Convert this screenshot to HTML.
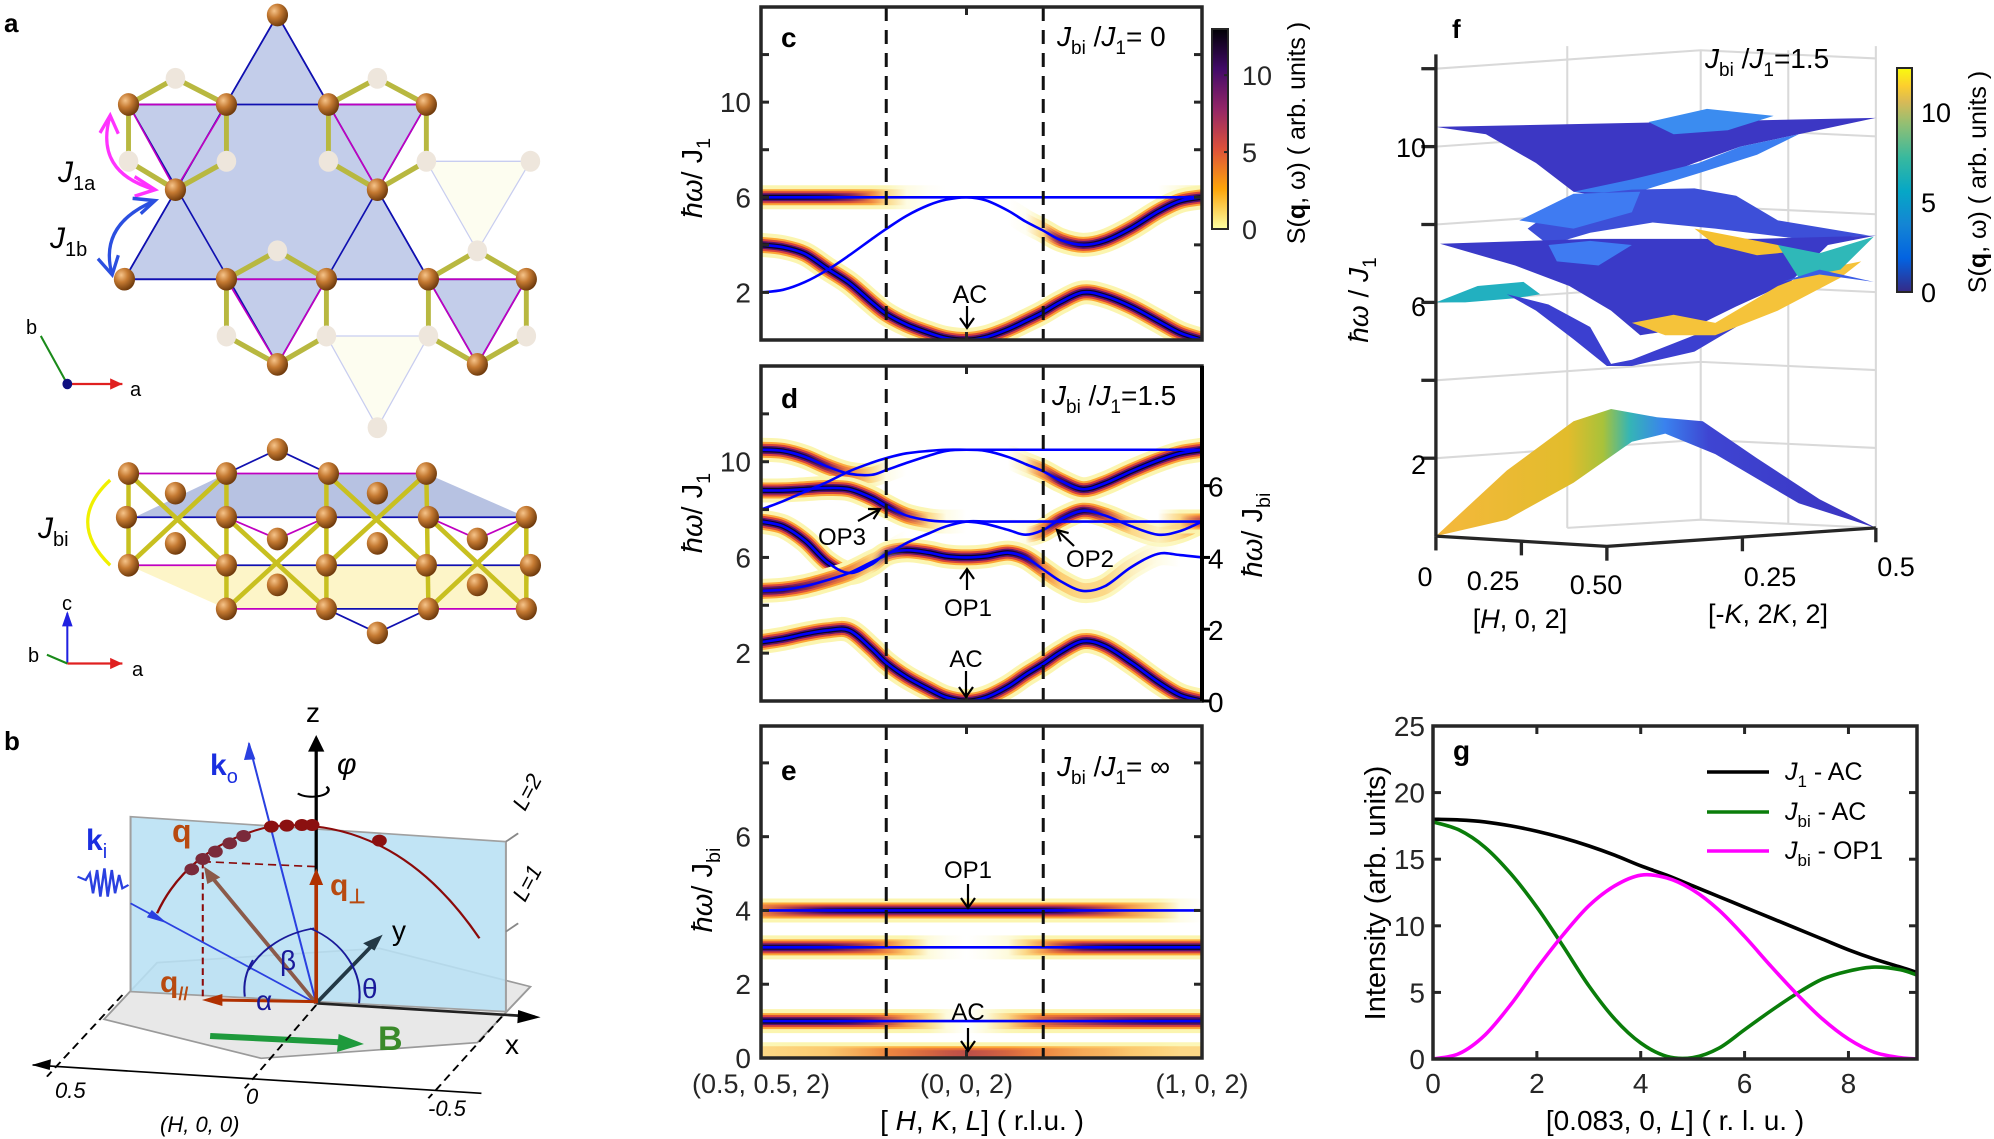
<!DOCTYPE html>
<html><head><meta charset="utf-8">
<style>
html,body{margin:0;padding:0;background:#fff;}
svg{display:block;font-family:"Liberation Sans",Arial,sans-serif;}
</style></head>
<body>
<svg id="fig" width="1994" height="1139" viewBox="0 0 1994 1139" xmlns="http://www.w3.org/2000/svg">
<defs>
  <radialGradient id="sph" cx="0.35" cy="0.32" r="0.7">
    <stop offset="0" stop-color="#f6c48a"/><stop offset="0.45" stop-color="#c57a32"/><stop offset="1" stop-color="#6e3a0c"/>
  </radialGradient>
  <linearGradient id="infernoBar" x1="0" y1="1" x2="0" y2="0">
    <stop offset="0" stop-color="#fcffa4"/><stop offset="0.2" stop-color="#fca50a"/><stop offset="0.4" stop-color="#dd513a"/>
    <stop offset="0.6" stop-color="#932667"/><stop offset="0.8" stop-color="#420a68"/><stop offset="1" stop-color="#000004"/>
  </linearGradient>
  <linearGradient id="parulaBar" x1="0" y1="1" x2="0" y2="0">
    <stop offset="0" stop-color="#352a87"/><stop offset="0.15" stop-color="#0363e1"/><stop offset="0.3" stop-color="#1485d4"/>
    <stop offset="0.45" stop-color="#06a7c6"/><stop offset="0.6" stop-color="#38b99e"/><stop offset="0.75" stop-color="#92bf73"/>
    <stop offset="0.85" stop-color="#d9ba56"/><stop offset="0.92" stop-color="#fcce2e"/><stop offset="1" stop-color="#f9fb0e"/>
  </linearGradient>
  <linearGradient id="acSurf" gradientUnits="userSpaceOnUse" x1="230" y1="0" x2="1285" y2="0">
    <stop offset="0" stop-color="#f5b83c"/><stop offset="0.3" stop-color="#e2bc2c"/><stop offset="0.38" stop-color="#a8c23a"/>
    <stop offset="0.44" stop-color="#35b5b5"/><stop offset="0.52" stop-color="#3a82ee"/><stop offset="0.62" stop-color="#3e45d2"/><stop offset="1" stop-color="#3b33c0"/>
  </linearGradient>
</defs>

<!-- ================= PANEL A ================= -->
<g>
<g transform="translate(0,-2.47) scale(0.408,0.4367)">
  <polygon points="1045,375 1300,375 1170,580" fill="#fdfdf0" stroke="#c8cdf0" stroke-width="3"/>
  <polygon points="800,775 1050,775 925,985" fill="#fdfdf0" stroke="#c8cdf0" stroke-width="3"/>
  <polygon points="680,40 305,645 1050,645" fill="#c3cdea" stroke="#1010b0" stroke-width="4"/>
  <polygon points="315,245 1045,245 680,840" fill="#c3cdea" stroke="#1010b0" stroke-width="4"/>
  <polygon points="1050,645 1290,645 1170,840" fill="#c3cdea" stroke="#1010b0" stroke-width="4"/>
  <polygon points="680,40 305,645 1050,645" fill="none" stroke="#1010b0" stroke-width="4"/>
  <g stroke="#c000c0" stroke-width="4" fill="none">
    <polygon points="315,245 555,245 430,440"/><polygon points="805,245 1045,245 925,440"/>
    <polygon points="555,645 800,645 680,840"/><polygon points="1050,645 1290,645 1170,840"/>
  </g>
  <g stroke="#b8b840" stroke-width="12" stroke-linecap="round">
    <line x1="430" y1="185" x2="315" y2="245"/><line x1="430" y1="185" x2="555" y2="245"/>
    <line x1="925" y1="185" x2="805" y2="245"/><line x1="925" y1="185" x2="1045" y2="245"/>
    <line x1="315" y1="245" x2="315" y2="375"/><line x1="555" y1="245" x2="555" y2="375"/>
    <line x1="805" y1="245" x2="805" y2="375"/><line x1="1045" y1="245" x2="1045" y2="375"/>
    <line x1="315" y1="375" x2="430" y2="440"/><line x1="555" y1="375" x2="430" y2="440"/>
    <line x1="805" y1="375" x2="925" y2="440"/><line x1="1045" y1="375" x2="925" y2="440"/>
    <line x1="555" y1="645" x2="680" y2="580"/><line x1="800" y1="645" x2="680" y2="580"/>
    <line x1="555" y1="645" x2="555" y2="775"/><line x1="800" y1="645" x2="800" y2="775"/>
    <line x1="555" y1="775" x2="680" y2="840"/><line x1="800" y1="775" x2="680" y2="840"/>
    <line x1="1050" y1="645" x2="1170" y2="580"/><line x1="1290" y1="645" x2="1170" y2="580"/>
    <line x1="1050" y1="645" x2="1050" y2="775"/><line x1="1290" y1="645" x2="1290" y2="775"/>
    <line x1="1050" y1="775" x2="1170" y2="840"/><line x1="1290" y1="775" x2="1170" y2="840"/>
  </g>
  <g fill="#eee6dc">
    <circle cx="430" cy="185" r="24"/><circle cx="925" cy="185" r="24"/><circle cx="315" cy="375" r="24"/>
    <circle cx="555" cy="375" r="24"/><circle cx="805" cy="375" r="24"/><circle cx="1045" cy="375" r="24"/>
    <circle cx="1300" cy="375" r="24"/><circle cx="680" cy="580" r="24"/><circle cx="1170" cy="580" r="24"/>
    <circle cx="555" cy="775" r="24"/><circle cx="800" cy="775" r="24"/><circle cx="1050" cy="775" r="24"/>
    <circle cx="1290" cy="775" r="24"/><circle cx="925" cy="985" r="24"/>
  </g>
  <g fill="url(#sph)">
    <circle cx="680" cy="40" r="26"/><circle cx="315" cy="245" r="26"/><circle cx="555" cy="245" r="26"/>
    <circle cx="805" cy="245" r="26"/><circle cx="1045" cy="245" r="26"/><circle cx="430" cy="440" r="26"/>
    <circle cx="925" cy="440" r="26"/><circle cx="305" cy="645" r="26"/><circle cx="555" cy="645" r="26"/>
    <circle cx="800" cy="645" r="26"/><circle cx="1050" cy="645" r="26"/><circle cx="1290" cy="645" r="26"/>
    <circle cx="680" cy="840" r="26"/><circle cx="1170" cy="840" r="26"/>
  </g>
  <path d="M270,270 Q230,400 380,440" fill="none" stroke="#ff33ff" stroke-width="8"/>
  <polyline points="245,310 270,270 290,312" fill="none" stroke="#ff33ff" stroke-width="8"/>
  <polyline points="330,410 380,440 330,455" fill="none" stroke="#ff33ff" stroke-width="8"/>
  <path d="M380,465 Q240,520 275,635" fill="none" stroke="#2b4fe0" stroke-width="8"/>
  <polyline points="325,460 380,465 345,495" fill="none" stroke="#2b4fe0" stroke-width="8"/>
  <polyline points="240,598 275,635 290,590" fill="none" stroke="#2b4fe0" stroke-width="8"/>
  <line x1="165" y1="885" x2="100" y2="775" stroke="#1a8a1a" stroke-width="5"/>
  <line x1="165" y1="885" x2="300" y2="885" stroke="#e02020" stroke-width="5"/>
  <polygon points="300,885 270,872 270,898" fill="#e02020"/>
  <circle cx="165" cy="885" r="12" fill="#101080"/>
  <!-- lower structure -->
  <polygon points="330,1190 555,1090 1045,1090 1290,1190" fill="#b7c2e2"/>
  <polygon points="315,1300 1300,1300 1290,1400 555,1400" fill="#fdf5c8"/>
  <g stroke="#1010b0" stroke-width="4">
    <line x1="310" y1="1190" x2="1290" y2="1190"/><line x1="555" y1="1300" x2="1300" y2="1300"/>
    <line x1="680" y1="1035" x2="555" y2="1090"/><line x1="680" y1="1035" x2="805" y2="1090"/>
    <line x1="800" y1="1400" x2="925" y2="1455"/><line x1="1050" y1="1400" x2="925" y2="1455"/>
    <line x1="800" y1="1400" x2="1050" y2="1400"/>
  </g>
  <g stroke="#c000c0" stroke-width="4">
    <line x1="315" y1="1090" x2="1045" y2="1090"/><line x1="555" y1="1400" x2="800" y2="1400"/>
    <line x1="1050" y1="1400" x2="1290" y2="1400"/><line x1="315" y1="1300" x2="555" y2="1300"/>
    <line x1="555" y1="1190" x2="680" y2="1240"/><line x1="800" y1="1190" x2="680" y2="1240"/>
    <line x1="1050" y1="1190" x2="1170" y2="1240"/><line x1="1290" y1="1190" x2="1170" y2="1240"/>
  </g>
  <g stroke="#c8c020" stroke-width="11">
    <line x1="315" y1="1090" x2="315" y2="1300"/><line x1="555" y1="1090" x2="555" y2="1400"/>
    <line x1="800" y1="1090" x2="800" y2="1400"/><line x1="1045" y1="1090" x2="1050" y2="1400"/>
    <line x1="1290" y1="1190" x2="1290" y2="1400"/>
    <line x1="315" y1="1090" x2="555" y2="1300"/><line x1="555" y1="1090" x2="315" y2="1300"/>
    <line x1="555" y1="1190" x2="800" y2="1400"/><line x1="800" y1="1190" x2="555" y2="1400"/>
    <line x1="800" y1="1090" x2="1045" y2="1300"/><line x1="1045" y1="1090" x2="800" y2="1300"/>
    <line x1="1050" y1="1190" x2="1290" y2="1400"/><line x1="1290" y1="1190" x2="1050" y2="1400"/>
  </g>
  <g fill="url(#sph)">
    <circle cx="680" cy="1035" r="26"/><circle cx="315" cy="1090" r="26"/><circle cx="555" cy="1090" r="26"/>
    <circle cx="805" cy="1090" r="26"/><circle cx="1045" cy="1090" r="26"/><circle cx="430" cy="1135" r="26"/>
    <circle cx="925" cy="1135" r="26"/><circle cx="310" cy="1190" r="26"/><circle cx="555" cy="1190" r="26"/>
    <circle cx="800" cy="1190" r="26"/><circle cx="1050" cy="1190" r="26"/><circle cx="1290" cy="1190" r="26"/>
    <circle cx="680" cy="1240" r="26"/><circle cx="1170" cy="1240" r="26"/><circle cx="430" cy="1250" r="26"/>
    <circle cx="925" cy="1250" r="26"/><circle cx="315" cy="1300" r="26"/><circle cx="555" cy="1300" r="26"/>
    <circle cx="800" cy="1300" r="26"/><circle cx="1045" cy="1300" r="26"/><circle cx="1300" cy="1300" r="26"/>
    <circle cx="680" cy="1345" r="26"/><circle cx="1170" cy="1345" r="26"/><circle cx="555" cy="1400" r="26"/>
    <circle cx="800" cy="1400" r="26"/><circle cx="1050" cy="1400" r="26"/><circle cx="1290" cy="1400" r="26"/>
    <circle cx="925" cy="1455" r="26"/>
  </g>
  <path d="M270,1105 Q160,1200 270,1300" fill="none" stroke="#f0f000" stroke-width="8"/>
  <line x1="165" y1="1525" x2="165" y2="1410" stroke="#2020e0" stroke-width="5"/>
  <polygon points="165,1405 152,1440 178,1440" fill="#2020e0"/>
  <line x1="165" y1="1525" x2="300" y2="1525" stroke="#e02020" stroke-width="5"/>
  <polygon points="300,1525 270,1512 270,1538" fill="#e02020"/>
  <line x1="165" y1="1525" x2="115" y2="1505" stroke="#1a8a1a" stroke-width="5"/>
</g>
<text x="4" y="32" font-size="26" font-weight="bold">a</text>
<text x="58" y="182" font-size="30"><tspan font-style="italic">J</tspan><tspan font-size="20" dy="8">1a</tspan></text>
<text x="50" y="248" font-size="30"><tspan font-style="italic">J</tspan><tspan font-size="20" dy="8">1b</tspan></text>
<text x="38" y="538" font-size="30"><tspan font-style="italic">J</tspan><tspan font-size="20" dy="8">bi</tspan></text>
<text x="26" y="334" font-size="20">b</text>
<text x="130" y="396" font-size="20">a</text>
<text x="62" y="610" font-size="20">c</text>
<text x="28" y="662" font-size="20">b</text>
<text x="132" y="676" font-size="20">a</text>
</g>

<!-- ================= PANEL B ================= -->
<g>
<g transform="translate(0,680) scale(0.408,0.3333)">
  <polygon points="385,848 930,805 1300,920 1170,1088 640,1135 255,1018" fill="#e8e8e8" stroke="#9a9a9a" stroke-width="5"/>
  <polygon points="320,410 1240,485 1240,995 320,935" fill="#b8e0f4" fill-opacity="0.88" stroke="#a0a0a0" stroke-width="5"/>
  <line x1="1240" y1="485" x2="1270" y2="460" stroke="#888" stroke-width="5"/>
  <line x1="1240" y1="755" x2="1270" y2="730" stroke="#888" stroke-width="5"/>
  <path d="M385,700 C430,580 520,480 660,440 C800,420 1000,460 1175,775" fill="none" stroke="#8b0a0a" stroke-width="6"/>
  <line x1="497" y1="545" x2="775" y2="560" stroke="#8b0a0a" stroke-width="5" stroke-dasharray="20 12"/>
  <line x1="497" y1="545" x2="497" y2="960" stroke="#8b0a0a" stroke-width="5" stroke-dasharray="20 12"/>
  <line x1="775" y1="970" x2="610" y2="190" stroke="#2a40e0" stroke-width="5"/>
  <polygon points="610,185 598,240 626,238" fill="#2a40e0"/>
  <line x1="320" y1="670" x2="775" y2="970" stroke="#2a40e0" stroke-width="5"/>
  <polygon points="410,730 372,690 360,712" fill="#2a40e0"/>
  <path d="M190,590 l20,10 l10,-20 l8,60 l10,-70 l8,80 l10,-85 l8,85 l10,-80 l8,70 l10,-55 l8,40 l15,-10" fill="none" stroke="#2a40e0" stroke-width="6"/>
  <line x1="775" y1="970" x2="775" y2="175" stroke="#000" stroke-width="8"/>
  <polygon points="775,165 755,215 795,215" fill="#000"/>
  <line x1="775" y1="970" x2="1310" y2="1010" stroke="#222" stroke-width="8"/>
  <polygon points="1325,1012 1270,990 1268,1030" fill="#000"/>
  <line x1="775" y1="970" x2="925" y2="780" stroke="#233845" stroke-width="10"/>
  <polygon points="938,764 890,790 918,812" fill="#233845"/>
  <line x1="775" y1="970" x2="510" y2="578" stroke="#8b5a4a" stroke-width="10"/>
  <polygon points="500,560 508,612 540,592" fill="#8b5a4a"/>
  <line x1="775" y1="970" x2="775" y2="600" stroke="#b03000" stroke-width="9"/>
  <polygon points="775,565 758,615 792,615" fill="#b03000"/>
  <line x1="775" y1="965" x2="530" y2="960" stroke="#b03000" stroke-width="9"/>
  <polygon points="495,960 545,942 545,978" fill="#b03000"/>
  <path d="M770,745 A225,225 0 0 0 610,870" fill="none" stroke="#1a1a9a" stroke-width="5"/>
  <path d="M620,840 A200,200 0 0 0 600,950" fill="none" stroke="#1a1a9a" stroke-width="5"/>
  <path d="M760,745 A225,225 0 0 1 880,970" fill="none" stroke="#1a1a9a" stroke-width="5"/>
  <path d="M730,340 A40,20 0 1 0 800,320" fill="none" stroke="#000" stroke-width="6"/>
  <line x1="515" y1="1068" x2="850" y2="1088" stroke="#1e9a3c" stroke-width="18"/>
  <polygon points="892,1092 830,1062 826,1116" fill="#1e9a3c"/>
  <line x1="80" y1="1155" x2="1180" y2="1240" stroke="#000" stroke-width="5"/>
  <polygon points="78,1155 125,1138 122,1170" fill="#000"/>
  <g stroke="#000" stroke-width="5" stroke-dasharray="22 14">
    <line x1="300" y1="945" x2="115" y2="1190"/><line x1="775" y1="975" x2="600" y2="1225"/><line x1="1230" y1="1010" x2="1050" y2="1255"/>
  </g>
  <g fill="#7a2a3a">
    <circle cx="470" cy="568" r="18"/><circle cx="497" cy="537" r="18"/><circle cx="528" cy="515" r="18"/>
    <circle cx="563" cy="490" r="18"/><circle cx="597" cy="468" r="18"/>
  </g>
  <g fill="#8b1010">
    <circle cx="665" cy="440" r="18"/><circle cx="703" cy="437" r="18"/><circle cx="740" cy="435" r="18"/>
    <circle cx="765" cy="435" r="18"/><circle cx="930" cy="482" r="18"/>
  </g>
</g>
<text x="4" y="750" font-size="26" font-weight="bold">b</text>
<text x="306" y="722" font-size="28">z</text>
<text x="337" y="774" font-size="30" font-style="italic">φ</text>
<text x="210" y="775" font-size="30" font-weight="bold" fill="#1a2ee0">k<tspan font-size="20" font-weight="normal" dy="8">o</tspan></text>
<text x="172" y="842" font-size="32" font-weight="bold" fill="#b84a10">q</text>
<text x="86" y="850" font-size="30" font-weight="bold" fill="#1a2ee0">k<tspan font-size="20" font-weight="normal" dy="8">i</tspan></text>
<text x="330" y="895" font-size="30" font-weight="bold" fill="#b84a10">q<tspan font-size="20" dy="8">⊥</tspan></text>
<text x="392" y="940" font-size="28">y</text>
<text x="280" y="970" font-size="28" fill="#1a1a9a">β</text>
<text x="362" y="998" font-size="28" fill="#1a1a9a">θ</text>
<text x="160" y="992" font-size="30" font-weight="bold" fill="#b84a10">q<tspan font-size="18" dy="8">//</tspan></text>
<text x="256" y="1010" font-size="28" fill="#1a1a9a">α</text>
<text x="378" y="1050" font-size="34" font-weight="bold" fill="#3a8a2a">B</text>
<text x="505" y="1054" font-size="28">x</text>
<text x="0" y="0" font-size="22" font-style="italic" transform="translate(525,812) rotate(-62)">L=2</text>
<text x="0" y="0" font-size="22" font-style="italic" transform="translate(525,903) rotate(-62)">L=1</text>
<text x="55" y="1098" font-size="22" font-style="italic">0.5</text>
<text x="246" y="1104" font-size="22" font-style="italic">0</text>
<text x="428" y="1116" font-size="22" font-style="italic">-0.5</text>
<text x="160" y="1132" font-size="22" font-style="italic">(H, 0, 0)</text>
</g>

<!-- ================= PANEL F (3D surfaces) ================= -->
<g>
<g transform="translate(1340,-1) scale(0.417,0.41)">
  <g stroke="#d9d9d9" stroke-width="5" fill="none">
    <polyline points="230,170 865,125 1285,145"/><polyline points="230,360 865,315 1285,335"/>
    <polyline points="230,550 865,505 1285,525"/><polyline points="230,740 865,695 1285,715"/>
    <polyline points="230,930 865,885 1285,905"/><polyline points="230,1120 865,1075 1285,1095"/>
    <line x1="545" y1="115" x2="545" y2="1290"/><line x1="865" y1="125" x2="865" y2="1270"/>
    <line x1="1075" y1="125" x2="1075" y2="1280"/><line x1="1285" y1="115" x2="1285" y2="1290"/>
    <polyline points="545,1290 865,1270 1285,1290"/>
  </g>
  <polygon points="230,312 1285,290 1100,330 960,360 850,400 700,460 620,480 560,470 470,400 350,330" fill="#3c37c4"/>
  <polygon points="740,300 880,268 1040,285 930,320 800,330" fill="#3b8cf0"/>
  <polygon points="560,470 700,440 860,400 960,360 1100,330 1000,380 860,425 700,475" fill="#3b7ef0"/>
  <polygon points="450,560 560,480 700,465 850,462 950,480 1050,540 1270,577 1100,585 900,560 750,545 600,570 500,600" fill="#3d4fd8"/>
  <polygon points="430,540 560,475 720,470 700,520 560,560" fill="#3f7bf2"/>
  <polygon points="240,597 600,585 1000,585 1285,577 1170,600 1080,690 950,750 850,800 720,820 650,760 550,700 420,650" fill="#3a3ac8"/>
  <polygon points="500,600 600,590 700,600 620,650 520,640" fill="#3f7bf2"/>
  <polygon points="230,740 330,700 440,690 480,720 420,730 300,740" fill="#22b0c0"/>
  <polygon points="400,720 500,745 600,800 650,890 700,880 800,840 900,800 1000,740 1100,680 1080,700 950,800 850,860 700,895 640,895 560,830 470,760" fill="#3b3fd0"/>
  <polygon points="700,790 800,770 900,790 1050,700 1150,660 1250,640 1200,680 1050,760 900,820 780,820" fill="#f5c33a"/>
  <polygon points="850,560 950,580 1050,600 1100,615 1000,625 900,600" fill="#f5c030"/>
  <polygon points="1050,600 1150,620 1280,580 1200,660 1100,680" fill="#2fb8b8"/>
  <polygon points="1060,690 1150,660 1280,690 1150,672" fill="#3b5de6"/>
  <polygon points="230,1310 400,1150 560,1030 650,1000 760,1020 870,1030 1000,1120 1150,1220 1285,1290 1100,1230 900,1110 780,1060 700,1080 560,1180 400,1270" fill="url(#acSurf)"/>
  <g stroke="#262626" stroke-width="8" fill="none">
    <line x1="230" y1="135" x2="230" y2="1310"/>
    <polyline points="230,1310 640,1335 1285,1290"/>
    <line x1="195" y1="170" x2="230" y2="170"/><line x1="195" y1="360" x2="230" y2="360"/>
    <line x1="195" y1="550" x2="230" y2="550"/><line x1="195" y1="740" x2="230" y2="740"/>
    <line x1="195" y1="930" x2="230" y2="930"/><line x1="195" y1="1120" x2="230" y2="1120"/>
    <line x1="230" y1="1310" x2="230" y2="1345"/><line x1="435" y1="1322" x2="435" y2="1357"/>
    <line x1="640" y1="1335" x2="640" y2="1370"/><line x1="965" y1="1312" x2="965" y2="1347"/>
    <line x1="1285" y1="1290" x2="1285" y2="1325"/>
  </g>
</g>
<text x="1452" y="38" font-size="26" font-weight="bold">f</text>
<text x="1705" y="68" font-size="28"><tspan font-style="italic">J</tspan><tspan font-size="19" dy="8">bi</tspan><tspan dy="-8"> /</tspan><tspan font-style="italic">J</tspan><tspan font-size="19" dy="8">1</tspan><tspan dy="-8">=1.5</tspan></text>
<g font-size="27" text-anchor="end">
  <text x="1426" y="157">10</text>
  <text x="1426" y="316">6</text>
  <text x="1426" y="474">2</text>
</g>
<g font-size="27" text-anchor="middle">
  <text x="1425" y="586">0</text>
  <text x="1493" y="590">0.25</text>
  <text x="1596" y="594">0.50</text>
  <text x="1770" y="586">0.25</text>
  <text x="1896" y="576">0.5</text>
  <text x="1520" y="628">[<tspan font-style="italic">H</tspan>, 0, 2]</text>
  <text x="1768" y="623">[-<tspan font-style="italic">K</tspan>, 2<tspan font-style="italic">K</tspan>, 2]</text>
</g>
<text transform="translate(1368,300) rotate(-90)" font-size="28" text-anchor="middle"><tspan font-style="italic">ħω</tspan> / <tspan font-style="italic">J</tspan><tspan font-size="19" dy="8">1</tspan></text>
<rect x="1897" y="68" width="15" height="224" fill="url(#parulaBar)" stroke="#262626" stroke-width="2"/>
<g font-size="27">
  <text x="1921" y="122">10</text>
  <text x="1921" y="212">5</text>
  <text x="1921" y="302">0</text>
</g>
<text transform="translate(1986,182) rotate(-90)" font-size="25" text-anchor="middle">S(<tspan font-weight="bold">q</tspan>, ω) ( arb. units )</text>
</g>

<g id="spectra"></g>
<g id="panelG"></g>
</svg>

<script>
// ---------- DATA: spectral panels c, d, e ----------
const pathPos = [0,0.05,0.1,0.15,0.2,0.25,0.284,0.33,0.38,0.42,0.466,0.51,0.56,0.6,0.64,0.68,0.73,0.78,0.84,0.9,0.95,1];
const pathTickLabels = ["(0.5, 0.5, 2)", "(0, 0, 2)", "(1, 0, 2)"];
const pathTickPos = [0, 0.466, 1];
const boundaryPos = [0.284, 0.64];

// panel c (units of J1)
const cFlatE = [6,6,6,6,6,6,6,6,6,6,6,6,6,6,6,6,6,6,6,6,6,6];
const cFlatI = [1,1,0.95,0.85,0.7,0.5,0.3,0.12,0.03,0,0,0,0,0,0,0,0,0,0,0,0.15,0.4];
const cOptE  = [2,2.11,2.44,2.94,3.56,4.23,4.67,5.22,5.67,5.9,6,5.87,5.44,4.98,4.6,4.2,4,4.17,4.71,5.4,5.84,6];
const cOptI  = [0,0,0,0,0,0,0,0,0,0,0,0,0,0.05,0.3,0.7,0.9,1,1,1,1,1];
const cAcE   = [4,3.9,3.62,3.0,2.4,1.6,1.1,0.65,0.3,0.08,0,0.12,0.45,0.8,1.17,1.6,2,1.85,1.4,0.8,0.3,0];
const cAcI   = [1,1,1,1,1,1,1,1,1,1,1,1,1,1,1,1,1,1,1,1,1,1];

// panel d (units of J1)
const dM1E = [8.0,8.35,8.75,9.15,9.6,9.95,10.15,10.35,10.45,10.5,10.5,10.5,10.5,10.5,10.5,10.5,10.5,10.5,10.5,10.5,10.5,10.5];
const dM1I = [0,0,0,0,0,0,0,0,0,0,0,0,0,0,0,0,0,0,0,0,0,0];
const dM2E = [10.5,10.45,10.2,9.8,9.5,9.45,9.65,9.95,10.25,10.45,10.5,10.45,10.2,9.9,9.6,9.2,8.85,9.1,9.6,10.05,10.35,10.5];
const dM2I = [1,1,0.9,0.7,0.5,0.3,0.1,0,0,0,0,0,0,0.2,0.5,0.8,1,1,1,1,1,1];
const dM3E = [8.8,8.8,8.85,8.9,8.85,8.5,8.15,7.75,7.55,7.5,7.5,7.4,7.15,6.95,7.15,7.6,7.95,7.75,7.3,6.95,7.1,7.5];
const dM3I = [1,1,1,1,1,0.95,0.9,0.6,0.3,0.1,0,0,0,0.1,0.5,0.8,0.9,0.6,0.3,0.2,0.3,0.5];
const dM4E = [7.5,7.3,6.7,5.8,5.35,5.7,6.15,6.3,6.2,6.05,6.0,6.05,6.2,6.0,5.5,5.0,4.6,4.8,5.6,6.15,6.1,6.0];
const dM4I = [1,1,1,1,1,1,1,1,1,1,1,1,1,0.8,0.5,0.35,0.3,0.3,0.2,0.1,0,0];
const dM5E = [4.6,4.65,4.8,5.05,5.35,5.8,6.1,6.6,7.0,7.3,7.5,7.5,7.5,7.5,7.5,7.5,7.5,7.5,7.5,7.5,7.5,7.5];
const dM5I = [0.8,0.8,0.7,0.6,0.5,0.3,0.1,0,0,0,0,0,0,0,0,0,0,0,0,0,0.3,0.6];
const dAcE = [2.46,2.6,2.8,2.95,2.95,2.2,1.6,1.0,0.5,0.15,0,0.15,0.6,1.1,1.55,2.05,2.5,2.3,1.6,0.8,0.25,0];
const dAcI = [1,1,1,1,1,1,1,1,1,1,1,1,1,1,1,1,1,1,1,1,1,1];

// panel e (units of Jbi)
const eOp1E = [4,4,4,4,4,4,4,4,4,4,4,4,4,4,4,4,4,4,4,4,4,4];
const eOp1I = [0.5,0.6,0.7,0.8,0.85,0.9,0.95,1,1,1,1,1,1,0.95,0.9,0.8,0.7,0.6,0.45,0.3,0.1,0];
const eOp3E = [3,3,3,3,3,3,3,3,3,3,3,3,3,3,3,3,3,3,3,3,3,3];
const eOp3I = [0.9,0.9,0.85,0.8,0.7,0.6,0.5,0.35,0.15,0.05,0,0.05,0.15,0.3,0.45,0.6,0.75,0.85,0.95,1,1,1];
const eM1E  = [1,1,1,1,1,1,1,1,1,1,1,1,1,1,1,1,1,1,1,1,1,1];
const eM1I  = [1,1,0.95,0.9,0.8,0.7,0.6,0.45,0.3,0.15,0,0.15,0.3,0.45,0.55,0.6,0.65,0.7,0.75,0.8,0.8,0.8];
const eAcE  = [0.1,0.1,0.1,0.1,0.1,0.1,0.1,0.1,0.1,0.1,0.1,0.1,0.1,0.1,0.1,0.1,0.1,0.1,0.1,0.1,0.1,0.1];
const eAcI  = [0.3,0.32,0.34,0.36,0.4,0.45,0.5,0.52,0.55,0.58,0.6,0.58,0.55,0.52,0.5,0.46,0.42,0.4,0.36,0.33,0.3,0.3];

const cYTicks = [2,4,6,8,10,12];
const cYLabels = [2,6,10];
const dRightTicks = [0,2,4,6];
const eYTicks = [0,2,4,6,8];
const eYLabels = [0,2,4,6];
const cbarTicks = [0,5,10];

// ---------- DATA: panel g ----------
const gL = [0,0.5,1,1.5,2,2.5,3,3.5,4,4.5,5,5.5,6,6.5,7,7.5,8,8.5,9,9.32];
const gJ1AC = [18,17.95,17.8,17.5,17.1,16.6,16,15.3,14.5,13.8,13.0,12.2,11.4,10.6,9.8,9.0,8.2,7.5,6.9,6.5];
const gJbiAC = [17.8,17.2,15.9,13.9,11.4,8.5,5.5,3.0,1.2,0.2,0.1,0.8,2.2,3.6,4.9,6.0,6.6,6.9,6.7,6.3];
const gJbiOP1 = [0,0.4,1.8,4.1,6.8,9.3,11.5,13.0,13.8,13.6,12.7,11.2,9.2,7.0,4.9,3.0,1.5,0.5,0.1,0];
const gXTicks = [0,2,4,6,8];
const gYTicks = [0,5,10,15,20,25];

// ---------- helpers ----------
const NS = 'http://www.w3.org/2000/svg';
function mk(parent, tag, attrs, text) {
  const e = document.createElementNS(NS, tag);
  for (const k in attrs) e.setAttribute(k, attrs[k]);
  if (text !== undefined) e.textContent = text;
  parent.appendChild(e);
  return e;
}
function smooth(pts) {
  let d = 'M' + pts[0][0].toFixed(2) + ',' + pts[0][1].toFixed(2);
  for (let i = 0; i < pts.length - 1; i++) {
    const p0 = pts[Math.max(0, i - 1)], p1 = pts[i], p2 = pts[i + 1], p3 = pts[Math.min(pts.length - 1, i + 2)];
    const c1x = p1[0] + (p2[0] - p0[0]) / 6, c1y = p1[1] + (p2[1] - p0[1]) / 6;
    const c2x = p2[0] - (p3[0] - p1[0]) / 6, c2y = p2[1] - (p3[1] - p1[1]) / 6;
    d += ' C' + c1x.toFixed(2) + ',' + c1y.toFixed(2) + ' ' + c2x.toFixed(2) + ',' + c2y.toFixed(2) + ' ' + p2[0].toFixed(2) + ',' + p2[1].toFixed(2);
  }
  return d;
}
const clamp = v => Math.max(0, Math.min(1, v));
const glowLayers = [
  {w: 24, c: '#fbf5b0', f: I => I * 3},
  {w: 16, c: '#fca636', f: I => (I - 0.15) * 2.5},
  {w: 12, c: '#d8443a', f: I => (I - 0.35) * 2.5},
  {w: 8,  c: '#5c126e', f: I => (I - 0.5) * 3},
  {w: 5,  c: '#0d0524', f: I => (I - 0.65) * 3}
];
let gradCount = 0;
const defs = document.querySelector('defs');
const root = document.getElementById('spectra');

function spectrum(name, yT, yB, vMax, modes) {
  const xL = 761, xR = 1202;
  const xs = s => xL + s * (xR - xL);
  const ys = v => yB - (v / vMax) * (yB - yT);
  const g = mk(root, 'g', {});
  
  
  const cp = mk(defs, 'clipPath', {id: 'clip-' + name});
  mk(cp, 'rect', {x: xL, y: yT, width: xR - xL, height: yB - yT});
  const plot = mk(g, 'g', {'clip-path': 'url(#clip-' + name + ')'});
  
  
  modes.forEach((m, mi) => {
    const pts = pathPos.map((s, i) => [xs(s), ys(m.E[i])]);
    const d = smooth(pts);
    glowLayers.forEach(L => {
      const id = 'gr' + (gradCount++);
      const lg = mk(defs, 'linearGradient', {id: id, gradientUnits: 'userSpaceOnUse', x1: xL, y1: 0, x2: xR, y2: 0});
      pathPos.forEach((s, i) => mk(lg, 'stop', {offset: s, 'stop-color': L.c, 'stop-opacity': clamp(L.f(m.I[i])).toFixed(3)}));
      const p = mk(plot, 'path', {d: d, fill: 'none', stroke: 'url(#' + id + ')', 'stroke-width': L.w, 'stroke-linecap': 'butt'});
      
      
    });
  });
  modes.forEach((m, mi) => {
    if (!m.line) return;
    const pts = pathPos.map((s, i) => [xs(s), ys(m.E[i])]);
    const p = mk(plot, 'path', {d: smooth(pts), fill: 'none', stroke: '#0000ff', 'stroke-width': 2.6});
    
    
  });
  boundaryPos.forEach(s => {
    const l = mk(g, 'line', {x1: xs(s), x2: xs(s), y1: yT, y2: yB, stroke: '#111', 'stroke-width': 3, 'stroke-dasharray': '14 9'});
    
    
  });
  const fr = mk(g, 'rect', {x: xL, y: yT, width: xR - xL, height: yB - yT, fill: 'none', stroke: '#262626', 'stroke-width': 3.5});
  
  
  [0.466].forEach(s => {
    mk(g, 'line', {x1: xs(s), x2: xs(s), y1: yT, y2: yT + 8, stroke: '#262626', 'stroke-width': 3});
    mk(g, 'line', {x1: xs(s), x2: xs(s), y1: yB, y2: yB - 8, stroke: '#262626', 'stroke-width': 3});
  });
  return {xs, ys, g, xL, xR};
}
function yTicks(P, ticks, labels, right) {
  ticks.forEach(t => {
    const y = P.ys(t);
    mk(P.g, 'line', {x1: P.xL, x2: P.xL + 8, y1: y, y2: y, stroke: '#262626', 'stroke-width': 3});
    if (right) mk(P.g, 'line', {x1: P.xR, x2: P.xR - 8, y1: y, y2: y, stroke: '#262626', 'stroke-width': 3});
  });
  labels.forEach(t => {
    const tx = mk(P.g, 'text', {x: P.xL - 10, y: P.ys(t) + 10, 'font-size': 28, 'text-anchor': 'end', fill: '#262626'}, String(t));
    
    
  });
}
function richText(parent, x, y, size, parts, name, anchor) {
  const t = mk(parent, 'text', {x: x, y: y, 'font-size': size, 'text-anchor': anchor || 'start'});
  
  
  parts.forEach(p => {
    const ts = mk(t, 'tspan', {}, p.t);
    if (p.i) ts.setAttribute('font-style', 'italic');
    if (p.b) ts.setAttribute('font-weight', 'bold');
    if (p.sub) { ts.setAttribute('font-size', size * 0.68); ts.setAttribute('dy', size * 0.28); }
    if (p.up) ts.setAttribute('dy', -size * 0.28);
  });
  return t;
}
function arrow(parent, x, y1, y2, name) {
  const g = mk(parent, 'g', {stroke: '#000', 'stroke-width': 2.2, fill: 'none'});
  
  
  mk(g, 'line', {x1: x, y1: y1, x2: x, y2: y2});
  const dir = y2 > y1 ? -1 : 1;
  mk(g, 'polyline', {points: (x - 7) + ',' + (y2 + dir * 10) + ' ' + x + ',' + y2 + ' ' + (x + 7) + ',' + (y2 + dir * 10)});
}
function arrowXY(parent, x1, y1, x2, y2, name) {
  const g = mk(parent, 'g', {stroke: '#000', 'stroke-width': 2.2, fill: 'none'});
  
  
  mk(g, 'line', {x1: x1, y1: y1, x2: x2, y2: y2});
  const a = Math.atan2(y2 - y1, x2 - x1), L = 12;
  const p1 = [x2 - L * Math.cos(a - 0.5), y2 - L * Math.sin(a - 0.5)], p2 = [x2 - L * Math.cos(a + 0.5), y2 - L * Math.sin(a + 0.5)];
  mk(g, 'polyline', {points: p1.join(',') + ' ' + x2 + ',' + y2 + ' ' + p2.join(',')});
}

// ---------- panel c ----------
const PC = spectrum('panel-c', 7, 340, 14, [
  {E: cFlatE, I: cFlatI, line: true}, {E: cOptE, I: cOptI, line: true}, {E: cAcE, I: cAcI, line: true}]);
yTicks(PC, cYTicks, cYLabels, true);
richText(PC.g, 781, 47, 28, [{t: 'c', b: true}], 'panel-c-label');
richText(PC.g, 1057, 46, 28, [{t: 'J', i: true}, {t: 'bi', sub: true}, {t: ' /', up: true}, {t: 'J', i: true}, {t: '1', sub: true}, {t: '= 0', up: true}], 'panel-c-ratio');
richText(PC.g, 970, 303, 25, [{t: 'AC'}], 'panel-c-ac-label', 'middle');
arrow(PC.g, 967, 306, 328, 'panel-c-ac-arrow');
const cyt = richText(PC.g, 0, 0, 29, [{t: 'ħω', i: true}, {t: '/ J'}, {t: '1', sub: true}], 'panel-c-y-title', 'middle');
cyt.setAttribute('transform', 'translate(702,178) rotate(-90)');
// colorbar
const cb = mk(PC.g, 'rect', {x: 1212, y: 29, width: 16, height: 200, fill: 'url(#infernoBar)', stroke: '#262626', 'stroke-width': 2});


cbarTicks.forEach(t => {
  const y = 229 - t / 13 * 200;
  mk(PC.g, 'line', {x1: 1224, x2: 1228, y1: y, y2: y, stroke: '#262626', 'stroke-width': 2});
  const tx = mk(PC.g, 'text', {x: 1242, y: y + 10, 'font-size': 27, fill: '#262626'}, String(t));
  
  
});
const cbt = richText(PC.g, 0, 0, 25, [{t: 'S('}, {t: 'q', b: true}, {t: ', ω) ( arb. units )'}], 'panel-c-colorbar-title', 'middle');
cbt.setAttribute('transform', 'translate(1305,133) rotate(-90)');

// ---------- panel d ----------
const PD = spectrum('panel-d', 366, 701, 14, [
  {E: dM1E, I: dM1I, line: true}, {E: dM2E, I: dM2I, line: true}, {E: dM3E, I: dM3I, line: true},
  {E: dM4E, I: dM4I, line: true}, {E: dM5E, I: dM5I, line: true}, {E: dAcE, I: dAcI, line: true}]);
yTicks(PD, cYTicks, cYLabels, false);
mk(PD.g, 'line', {x1: PD.xR, x2: PD.xR, y1: 366, y2: 701, stroke: '#000', 'stroke-width': 4});
dRightTicks.forEach(t => {
  const y = PD.ys(t * 1.5);
  mk(PD.g, 'line', {x1: PD.xR, x2: PD.xR + 8, y1: y, y2: y, stroke: '#000', 'stroke-width': 3});
  const tx = mk(PD.g, 'text', {x: PD.xR + 6, y: y + 11, 'font-size': 28}, String(t));
  
  
});
richText(PD.g, 781, 408, 28, [{t: 'd', b: true}], 'panel-d-label');
richText(PD.g, 1052, 405, 28, [{t: 'J', i: true}, {t: 'bi', sub: true}, {t: ' /', up: true}, {t: 'J', i: true}, {t: '1', sub: true}, {t: '=1.5', up: true}], 'panel-d-ratio');
richText(PD.g, 842, 545, 24, [{t: 'OP3'}], 'op3-label', 'middle');
arrowXY(PD.g, 858, 521, 880, 509, 'op3-arrow');
richText(PD.g, 1090, 567, 24, [{t: 'OP2'}], 'op2-label', 'middle');
arrowXY(PD.g, 1074, 546, 1057, 530, 'op2-arrow');
richText(PD.g, 968, 616, 24, [{t: 'OP1'}], 'op1-label', 'middle');
arrow(PD.g, 967, 590, 569, 'op1-arrow');
richText(PD.g, 966, 667, 24, [{t: 'AC'}], 'panel-d-ac-label', 'middle');
arrow(PD.g, 966, 671, 697, 'panel-d-ac-arrow');
const dyt = richText(PD.g, 0, 0, 29, [{t: 'ħω', i: true}, {t: '/ J'}, {t: '1', sub: true}], 'panel-d-y-title', 'middle');
dyt.setAttribute('transform', 'translate(702,513) rotate(-90)');
const dyr = richText(PD.g, 0, 0, 29, [{t: 'ħω', i: true}, {t: '/ J'}, {t: 'bi', sub: true}], 'panel-d-right-y-title', 'middle');
dyr.setAttribute('transform', 'translate(1262,535) rotate(-90)');

// ---------- panel e ----------
const PE = spectrum('panel-e', 726, 1058, 9, [
  {E: eOp1E, I: eOp1I, line: true}, {E: eOp3E, I: eOp3I, line: true}, {E: eM1E, I: eM1I, line: true}, {E: eAcE, I: eAcI, line: false}]);
yTicks(PE, eYTicks, eYLabels, true);
richText(PE.g, 781, 780, 28, [{t: 'e', b: true}], 'panel-e-label');
richText(PE.g, 1057, 776, 28, [{t: 'J', i: true}, {t: 'bi', sub: true}, {t: ' /', up: true}, {t: 'J', i: true}, {t: '1', sub: true}, {t: '= ∞', up: true}], 'panel-e-ratio');
richText(PE.g, 968, 878, 24, [{t: 'OP1'}], 'panel-e-op1-label', 'middle');
arrow(PE.g, 968, 884, 908, 'panel-e-op1-arrow');
richText(PE.g, 968, 1020, 24, [{t: 'AC'}], 'panel-e-ac-label', 'middle');
arrow(PE.g, 968, 1028, 1051, 'panel-e-ac-arrow');
const eyt = richText(PE.g, 0, 0, 29, [{t: 'ħω', i: true}, {t: '/ J'}, {t: 'bi', sub: true}], 'panel-e-y-title', 'middle');
eyt.setAttribute('transform', 'translate(712,890) rotate(-90)');
pathTickPos.forEach((s, i) => {
  const tx = mk(PE.g, 'text', {x: PE.xs(s), y: 1093, 'font-size': 27, 'text-anchor': 'middle', fill: '#262626'}, pathTickLabels[i]);
  
  
});
richText(PE.g, 982, 1130, 28, [{t: '[ '}, {t: 'H', i: true}, {t: ', '}, {t: 'K', i: true}, {t: ', '}, {t: 'L', i: true}, {t: '] ( r.l.u. )'}], 'panel-e-x-title', 'middle');

// ---------- panel g ----------
const G = document.getElementById('panelG');
const gxL = 1433, gxR = 1917, gyT = 726, gyB = 1059, gxMax = 9.32, gyMax = 25;
const gx = v => gxL + v / gxMax * (gxR - gxL);
const gy = v => gyB - v / gyMax * (gyB - gyT);
const gSeries = [{v: gJ1AC, c: '#000000', n: 'j1-ac'}, {v: gJbiAC, c: '#0a7d0a', n: 'jbi-ac'}, {v: gJbiOP1, c: '#ff00ff', n: 'jbi-op1'}];
const gcp = mk(defs, 'clipPath', {id: 'clip-g'});
mk(gcp, 'rect', {x: gxL, y: gyT, width: gxR - gxL, height: gyB - gyT});
gSeries.forEach(s => {
  const p = mk(G, 'path', {d: smooth(gL.map((x, i) => [gx(x), gy(s.v[i])])), fill: 'none', stroke: s.c, 'stroke-width': 3.6, 'clip-path': 'url(#clip-g)'});
  
  
});
const gfr = mk(G, 'rect', {x: gxL, y: gyT, width: gxR - gxL, height: gyB - gyT, fill: 'none', stroke: '#262626', 'stroke-width': 3.5});


gXTicks.forEach(t => {
  mk(G, 'line', {x1: gx(t), x2: gx(t), y1: gyB, y2: gyB - 8, stroke: '#262626', 'stroke-width': 3});
  mk(G, 'line', {x1: gx(t), x2: gx(t), y1: gyT, y2: gyT + 8, stroke: '#262626', 'stroke-width': 3});
  const tx = mk(G, 'text', {x: gx(t), y: 1093, 'font-size': 28, 'text-anchor': 'middle', fill: '#262626'}, String(t));
  
  
});
gYTicks.forEach(t => {
  mk(G, 'line', {x1: gxL, x2: gxL + 8, y1: gy(t), y2: gy(t), stroke: '#262626', 'stroke-width': 3});
  mk(G, 'line', {x1: gxR, x2: gxR - 8, y1: gy(t), y2: gy(t), stroke: '#262626', 'stroke-width': 3});
  const tx = mk(G, 'text', {x: gxL - 8, y: gy(t) + 10, 'font-size': 28, 'text-anchor': 'end', fill: '#262626'}, String(t));
  
  
});
richText(G, 1453, 760, 28, [{t: 'g', b: true}], 'panel-g-label');
const gyt = richText(G, 0, 0, 29, [{t: 'Intensity (arb. units)'}], 'panel-g-y-title', 'middle');
gyt.setAttribute('transform', 'translate(1385,893) rotate(-90)');
richText(G, 1675, 1130, 28, [{t: '[0.083, 0,  '}, {t: 'L', i: true}, {t: '] ( r. l. u. )'}], 'panel-g-x-title', 'middle');
const legendRows = [
  [{t: 'J', i: true}, {t: '1', sub: true}, {t: ' - AC', up: true}],
  [{t: 'J', i: true}, {t: 'bi', sub: true}, {t: ' - AC', up: true}],
  [{t: 'J', i: true}, {t: 'bi', sub: true}, {t: ' - OP1', up: true}]
];
const legendY = [772, 812, 851];
gSeries.forEach((s, i) => {
  const lg = mk(G, 'g', {});
  
  
  mk(lg, 'line', {x1: 1707, x2: 1769, y1: legendY[i], y2: legendY[i], stroke: s.c, 'stroke-width': 3.6});
  richText(lg, 1785, legendY[i] + 8, 25, legendRows[i], 'legend-label-' + s.n);
});
</script>
</body></html>
